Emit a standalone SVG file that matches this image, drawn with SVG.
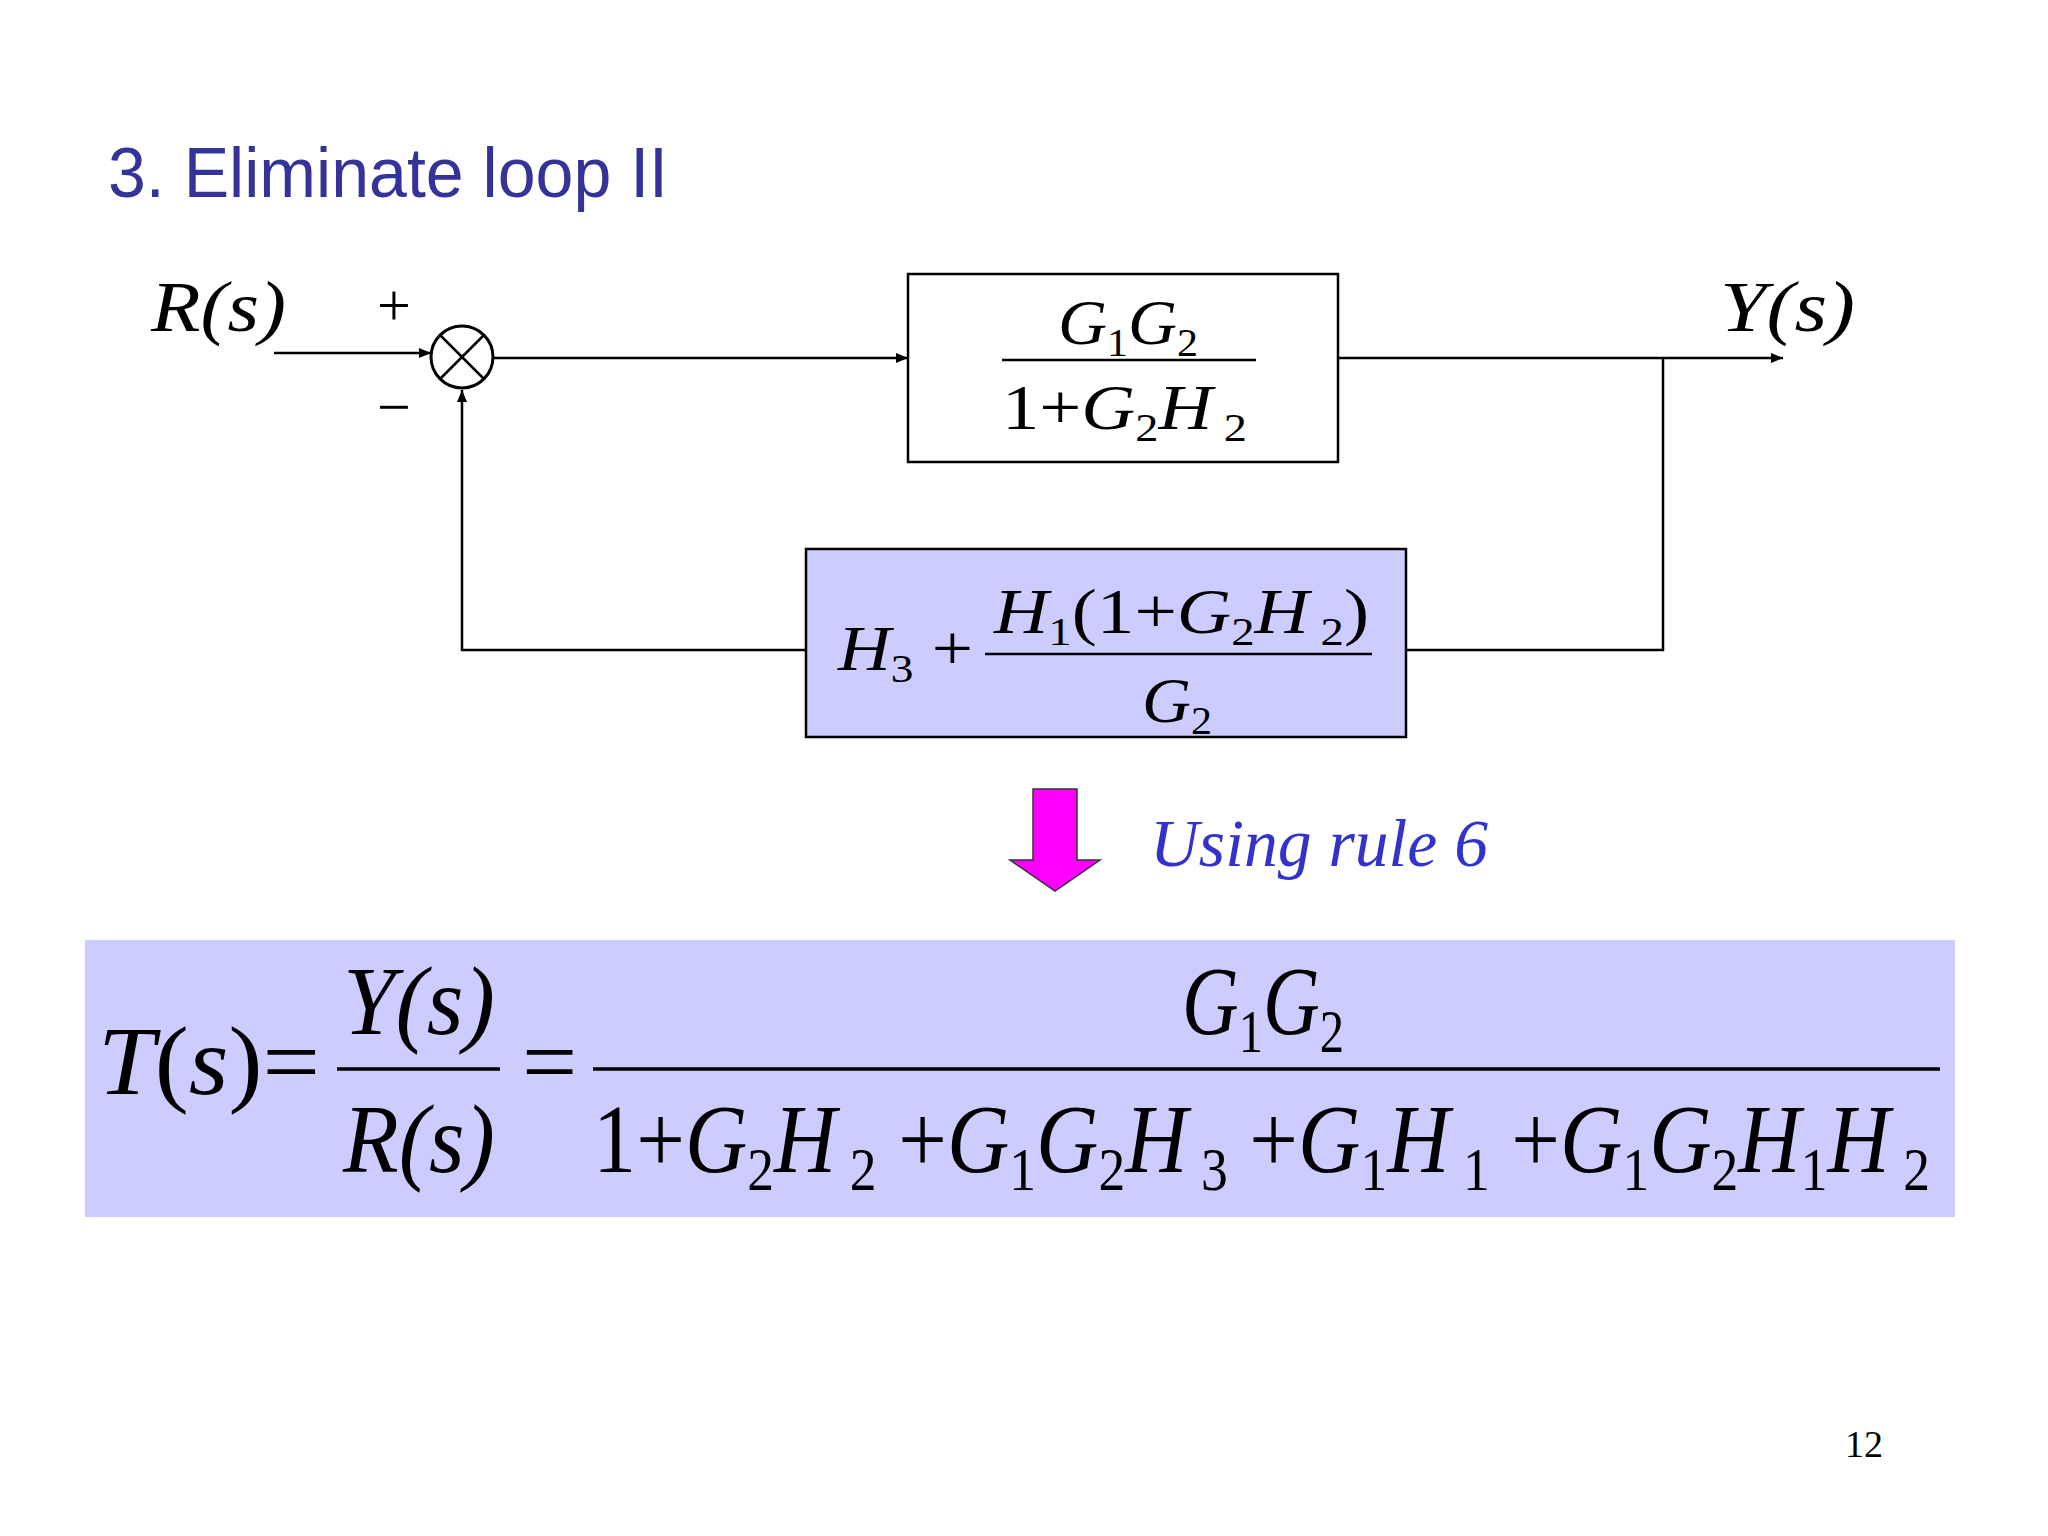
<svg xmlns="http://www.w3.org/2000/svg" width="2048" height="1536" viewBox="0 0 2048 1536">
<style>
.m{font-family:"Liberation Serif",serif;fill:#000}
.i{font-style:italic}
.s{font-size:0.62em}
.ln{stroke:#000;stroke-width:2.5;fill:none}
</style>
<defs>
<marker id="ah" markerWidth="12" markerHeight="10" refX="12" refY="5" orient="auto" markerUnits="userSpaceOnUse"><path d="M0,0 L12,5 L0,10 Z" fill="#000"/></marker>
</defs>
<rect width="2048" height="1536" fill="#fff"/>
<text x="108" y="197" font-family="Liberation Sans,sans-serif" font-size="70" fill="#333399" textLength="560" lengthAdjust="spacingAndGlyphs">3. Eliminate loop II</text>
<g id="connectors">
<path class="ln" d="M274,353 L431,353" marker-end="url(#ah)"/>
<path class="ln" d="M494,358 L908,358" marker-end="url(#ah)"/>
<path class="ln" d="M1338,358 L1783,358" marker-end="url(#ah)"/>
<path class="ln" d="M1663,358 L1663,650 L1406,650"/>
<path class="ln" d="M806,650 L462,650 L462,390" marker-end="url(#ah)"/>
</g>
<g id="labels">
<text class="m i" x="151" y="331" font-size="72" textLength="135" lengthAdjust="spacingAndGlyphs">R(s)</text>
<text class="m i" x="1720" y="331" font-size="72" textLength="135" lengthAdjust="spacingAndGlyphs">Y(s)</text>
<text class="m" x="394" y="325" font-size="60" text-anchor="middle">+</text>
<text class="m" x="394" y="427" font-size="60" text-anchor="middle">−</text>
</g>
<g id="sum">
<circle cx="462" cy="357" r="31" fill="#fff" stroke="#000" stroke-width="3"/>
<path class="ln" d="M440,335 L484,379 M484,335 L440,379"/>
</g>
<g id="box1">
<rect x="908" y="274" width="430" height="188" fill="#fff" stroke="#000" stroke-width="2.5"/>
<line x1="1002" y1="360" x2="1256" y2="360" stroke="#000" stroke-width="2.5"/>
<text class="m" x="1058" y="344" font-size="64" textLength="140" lengthAdjust="spacingAndGlyphs"><tspan class="i">G</tspan><tspan class="s" dy="12">1</tspan><tspan class="i" dy="-12">G</tspan><tspan class="s" dy="12">2</tspan></text>
<text class="m" x="1002" y="429" font-size="64" textLength="245" lengthAdjust="spacingAndGlyphs">1+<tspan class="i">G</tspan><tspan class="s" dy="12">2</tspan><tspan class="i" dy="-12">H</tspan><tspan class="s" dy="12"> 2</tspan></text>
</g>
<g id="box2">
<rect x="806" y="549" width="600" height="188" fill="#ccccff" stroke="#000" stroke-width="2.5"/>
<line x1="985" y1="654" x2="1372" y2="654" stroke="#000" stroke-width="2.5"/>
<text class="m" x="838" y="670" font-size="64" textLength="135" lengthAdjust="spacingAndGlyphs"><tspan class="i">H</tspan><tspan class="s" dy="12">3</tspan><tspan dy="-12"> +</tspan></text>
<text class="m" x="994" y="633" font-size="64" textLength="375" lengthAdjust="spacingAndGlyphs"><tspan class="i">H</tspan><tspan class="s" dy="12">1</tspan><tspan dy="-12">(1+</tspan><tspan class="i">G</tspan><tspan class="s" dy="12">2</tspan><tspan class="i" dy="-12">H</tspan><tspan class="s" dy="12"> 2</tspan><tspan dy="-12">)</tspan></text>
<text class="m" x="1142" y="722" font-size="64" textLength="70" lengthAdjust="spacingAndGlyphs"><tspan class="i">G</tspan><tspan class="s" dy="12">2</tspan></text>
</g>
<g id="rule">
<path d="M1033,789 L1077,789 L1077,860 L1100,860 L1055,891 L1010,860 L1033,860 Z" fill="#ff00ff" stroke="#333" stroke-width="1.5"/>
<text x="1150" y="866" font-family="Liberation Serif,serif" font-style="italic" font-size="68" fill="#3333cc" textLength="338" lengthAdjust="spacingAndGlyphs">Using rule 6</text>
</g>
<g id="result">
<rect x="85" y="940" width="1870" height="277" fill="#ccccff"/>
<text class="m" x="98" y="1094" font-size="98" textLength="222" lengthAdjust="spacingAndGlyphs"><tspan class="i">T</tspan>(<tspan class="i">s</tspan>)=</text>
<line x1="337" y1="1069" x2="500" y2="1069" stroke="#000" stroke-width="3.5"/>
<text class="m i" x="343" y="1034" font-size="98" textLength="152" lengthAdjust="spacingAndGlyphs">Y(s)</text>
<text class="m i" x="343" y="1172" font-size="98" textLength="152" lengthAdjust="spacingAndGlyphs">R(s)</text>
<text class="m" x="522" y="1094" font-size="98">=</text>
<line x1="593" y1="1069" x2="1940" y2="1069" stroke="#000" stroke-width="3.5"/>
<text class="m" x="1182" y="1034" font-size="98" textLength="162" lengthAdjust="spacingAndGlyphs"><tspan class="i">G</tspan><tspan class="s" dy="18">1</tspan><tspan class="i" dy="-18">G</tspan><tspan class="s" dy="18">2</tspan></text>
<text class="m" x="593" y="1172" font-size="98" textLength="1337" lengthAdjust="spacingAndGlyphs">1+<tspan class="i">G</tspan><tspan class="s" dy="18">2</tspan><tspan class="i" dy="-18">H</tspan><tspan class="s" dy="18"> 2</tspan><tspan dy="-18"> +</tspan><tspan class="i">G</tspan><tspan class="s" dy="18">1</tspan><tspan class="i" dy="-18">G</tspan><tspan class="s" dy="18">2</tspan><tspan class="i" dy="-18">H</tspan><tspan class="s" dy="18"> 3</tspan><tspan dy="-18"> +</tspan><tspan class="i">G</tspan><tspan class="s" dy="18">1</tspan><tspan class="i" dy="-18">H</tspan><tspan class="s" dy="18"> 1</tspan><tspan dy="-18"> +</tspan><tspan class="i">G</tspan><tspan class="s" dy="18">1</tspan><tspan class="i" dy="-18">G</tspan><tspan class="s" dy="18">2</tspan><tspan class="i" dy="-18">H</tspan><tspan class="s" dy="18">1</tspan><tspan class="i" dy="-18">H</tspan><tspan class="s" dy="18"> 2</tspan></text>
</g>
<text x="1845" y="1457" font-family="Liberation Serif,serif" font-size="38" fill="#000">12</text>
</svg>
